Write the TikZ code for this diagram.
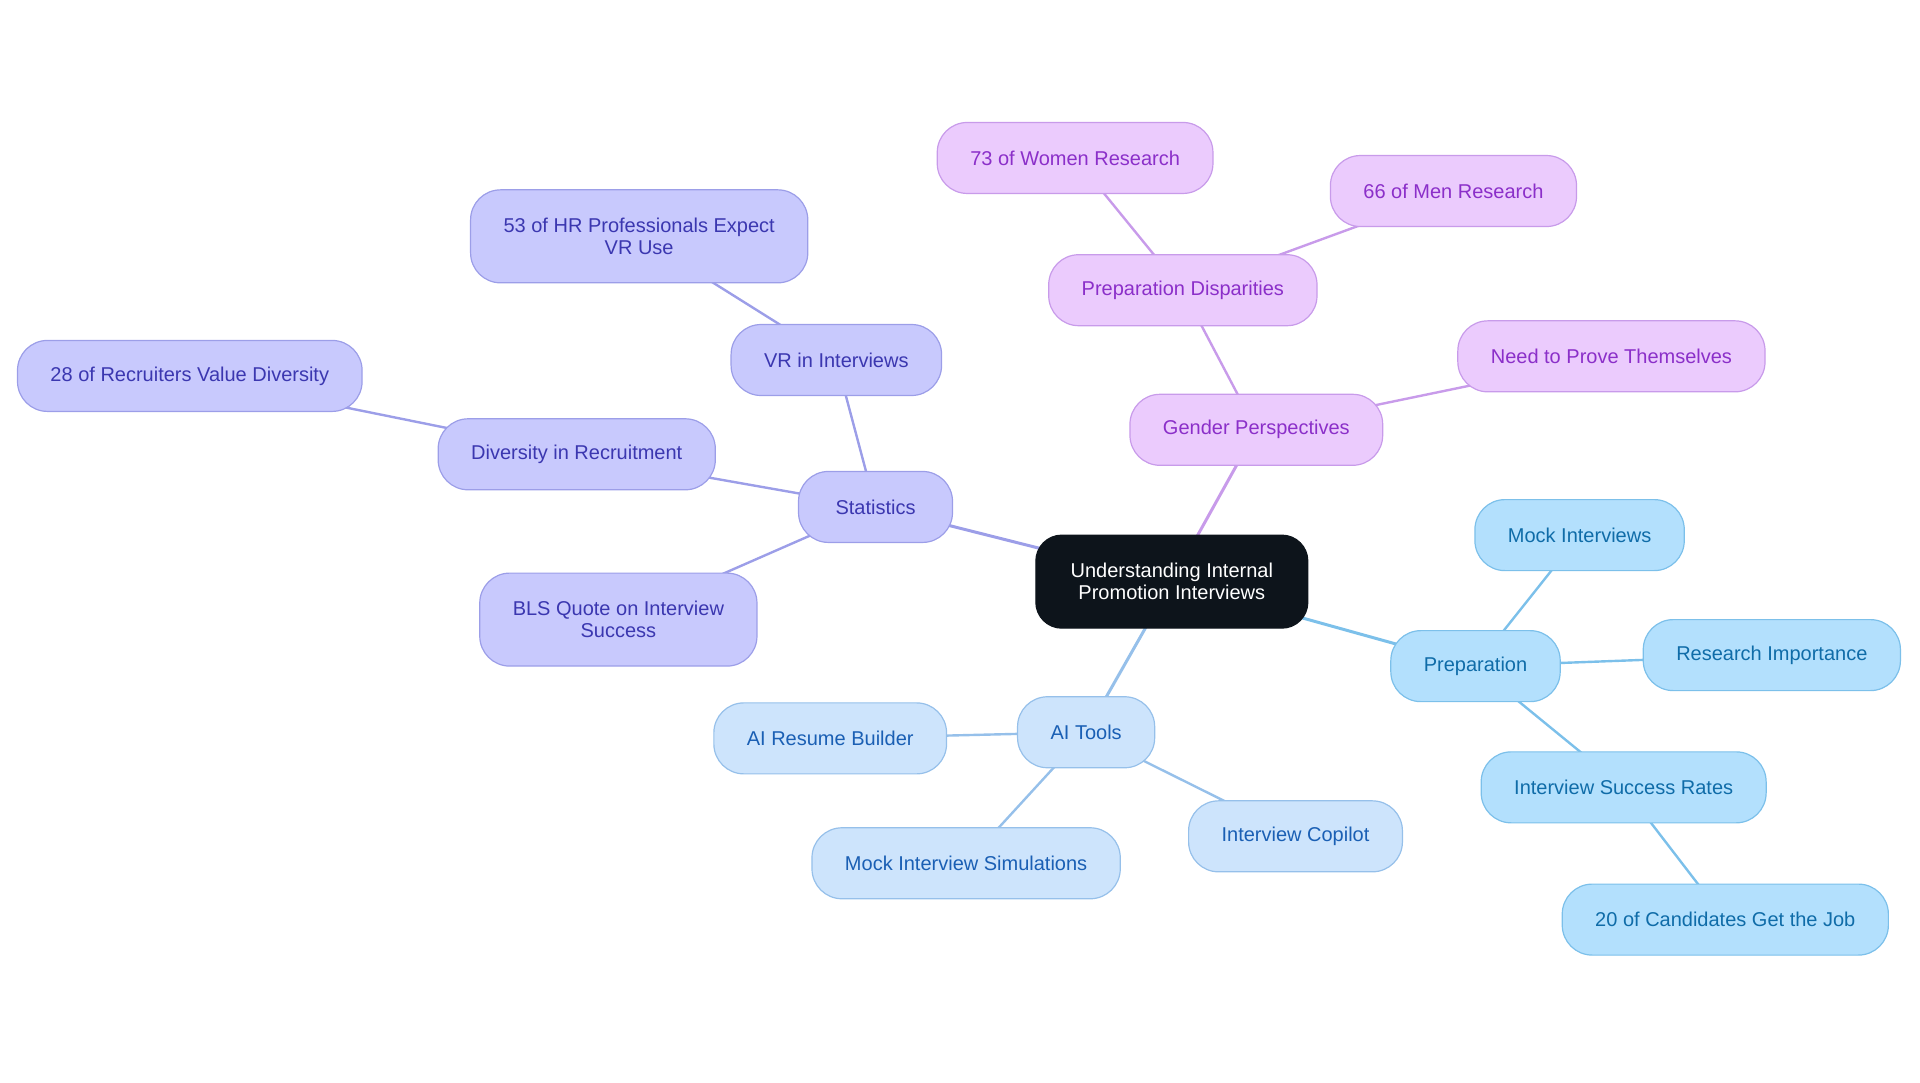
\documentclass[tikz,border=0pt]{standalone}
\usepackage{fontspec}
\setmainfont{Liberation Sans}
\usetikzlibrary{backgrounds}

\definecolor{rootfill}{HTML}{0D141B}
\definecolor{statfill}{HTML}{C8C9FD}
\definecolor{statline}{HTML}{9C9EE8}
\definecolor{stattext}{HTML}{3B37B0}
\definecolor{gendfill}{HTML}{EBCBFD}
\definecolor{gendline}{HTML}{C89BEA}
\definecolor{gendtext}{HTML}{8B2FC9}
\definecolor{prepfill}{HTML}{B3E0FD}
\definecolor{prepline}{HTML}{7CC0EA}
\definecolor{preptext}{HTML}{0F6CA8}
\definecolor{aifill}{HTML}{CDE4FC}
\definecolor{ailine}{HTML}{96C0EA}
\definecolor{aitext}{HTML}{1A5FB4}

\begin{document}
\begin{tikzpicture}[x=0.6123pt,y=-0.6123pt,
    box/.style={rounded corners=15pt, draw, line width=0.6pt, minimum height=35.5pt,
      inner xsep=16.5pt, align=center, font=\fontsize{10}{11}\selectfont},
    tall/.style={minimum height=46.5pt},
    stat/.style={box, fill=statfill, draw=statline, text=stattext},
    gend/.style={box, fill=gendfill, draw=gendline, text=gendtext},
    prep/.style={box, fill=prepfill, draw=prepline, text=preptext},
    aitool/.style={box, fill=aifill, draw=ailine, text=aitext},
    link/.style={line width=1.2pt},
    mainlink/.style={line width=1.5pt}]
\useasboundingbox (0,0) rectangle (1568,884.3);

% Root
\node[box, tall, fill=rootfill, draw=rootfill, text=white, rounded corners=13pt,
  minimum width=136pt] (root) at (957,475) {Understanding Internal\\Promotion Interviews};

% Statistics
\node[stat, minimum width=77pt] (stats) at (715,414) {Statistics};
\node[stat] (vr) at (683,294) {VR in Interviews};
\node[stat, tall] (hr) at (522,193) {53 of HR Professionals Expect\\VR Use};
\node[stat] (div) at (471,371) {Diversity in Recruitment};
\node[stat] (recr) at (155,307) {28 of Recruiters Value Diversity};
\node[stat, tall] (bls) at (505,506) {BLS Quote on Interview\\Success};

% Gender
\node[gend] (gender) at (1026,351) {Gender Perspectives};
\node[gend] (disp) at (966,237) {Preparation Disparities};
\node[gend] (women) at (878,129) {73 of Women Research};
\node[gend] (men) at (1187,156) {66 of Men Research};
\node[gend] (prove) at (1316,291) {Need to Prove Themselves};

% Preparation
\node[prep] (prepn) at (1205,544) {Preparation};
\node[prep] (mock) at (1290,437) {Mock Interviews};
\node[prep] (research) at (1447,535) {Research Importance};
\node[prep] (success) at (1326,643) {Interview Success Rates};
\node[prep] (cand) at (1409,751) {20 of Candidates Get the Job};

% AI tools
\node[aitool] (ai) at (887,598) {AI Tools};
\node[aitool] (resume) at (678,603) {AI Resume Builder};
\node[aitool] (sim) at (789,705) {Mock Interview Simulations};
\node[aitool] (copilot) at (1058,683) {Interview Copilot};

% Edges
\begin{scope}[on background layer]
\draw[mainlink, statline] (root.center) -- (stats.center);
\draw[mainlink, gendline] (root.center) -- (gender.center);
\draw[mainlink, prepline] (root.center) -- (prepn.center);
\draw[mainlink, ailine] (root.center) -- (ai.center);

\draw[link, statline] (stats.center) -- (vr.center);
\draw[link, statline] (vr.center) -- (hr.center);
\draw[link, statline] (stats.center) -- (div.center);
\draw[link, statline] (div.center) -- (recr.center);
\draw[link, statline] (stats.center) -- (bls.center);

\draw[link, gendline] (gender.center) -- (disp.center);
\draw[link, gendline] (disp.center) -- (women.center);
\draw[link, gendline] (disp.center) -- (men.center);
\draw[link, gendline] (gender.center) -- (prove.center);

\draw[link, prepline] (prepn.center) -- (mock.center);
\draw[link, prepline] (prepn.center) -- (research.center);
\draw[link, prepline] (prepn.center) -- (success.center);
\draw[link, prepline] (success.center) -- (cand.center);

\draw[link, ailine] (ai.center) -- (resume.center);
\draw[link, ailine] (ai.center) -- (sim.center);
\draw[link, ailine] (ai.center) -- (copilot.center);
\end{scope}
\end{tikzpicture}
\end{document}
